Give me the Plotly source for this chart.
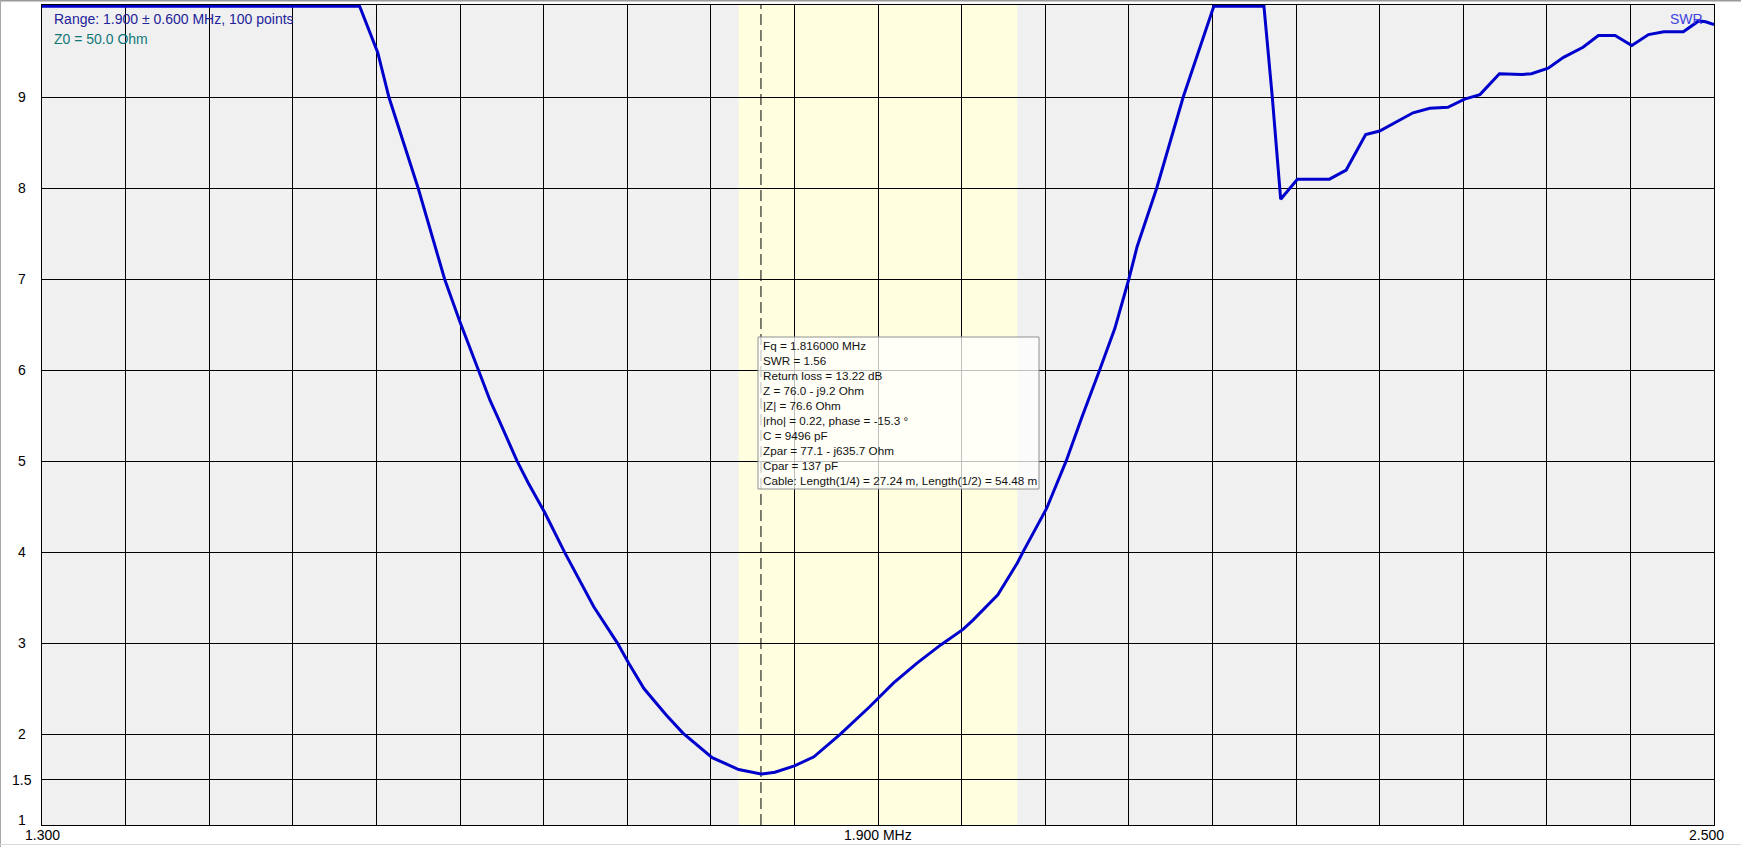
import plotly.graph_objects as go

# SWR sweep (values above 10 are clipped at the top)
freq_mhz = [
    1.300, 1.528, 1.541, 1.549, 1.570, 1.589, 1.600, 1.613, 1.6215, 1.628,
    1.641, 1.649, 1.661, 1.675, 1.696, 1.713, 1.721, 1.732, 1.748, 1.760,
    1.781, 1.800, 1.816, 1.826, 1.840, 1.854, 1.873, 1.894, 1.911, 1.928,
    1.945, 1.961, 1.968, 1.986, 2.000, 2.004, 2.021, 2.035, 2.046, 2.059,
    2.070, 2.080, 2.086, 2.100, 2.119, 2.141, 2.177, 2.183, 2.186, 2.189,
    2.201, 2.224, 2.236, 2.250, 2.260, 2.272, 2.284, 2.296, 2.309, 2.321,
    2.332, 2.346, 2.362, 2.369, 2.381, 2.392, 2.406, 2.417, 2.429, 2.441,
    2.453, 2.464, 2.478, 2.489, 2.494, 2.500,
]
swr = [
    10.0, 10.0, 9.49, 9.00, 8.00, 7.00, 6.53, 6.00, 5.67, 5.45,
    5.00, 4.76, 4.43, 4.00, 3.40, 3.00, 2.78, 2.50, 2.21, 2.01,
    1.74, 1.61, 1.56, 1.58, 1.65, 1.75, 2.00, 2.30, 2.56, 2.78,
    2.98, 3.15, 3.25, 3.53, 3.88, 4.00, 4.48, 5.00, 5.47, 6.00,
    6.46, 7.00, 7.36, 8.00, 9.00, 10.0, 10.0, 9.00, 8.46, 7.88,
    8.10, 8.10, 8.20, 8.59, 8.63, 8.73, 8.83, 8.88, 8.89, 8.98,
    9.03, 9.26, 9.25, 9.26, 9.32, 9.44, 9.55, 9.68, 9.68, 9.57,
    9.69, 9.72, 9.72, 9.84, 9.83, 9.80,
]

x_grid = [round(1.3 + 0.06 * i, 2) for i in range(21)]
y_ticks = [1, 1.5, 2, 3, 4, 5, 6, 7, 8, 9]
y_labels = ["1", "1.5", "2", "3", "4", "5", "6", "7", "8", "9"]
x_labels = {1.3: "1.300", 1.9: "1.900 MHz", 2.5: "2.500"}

band = (1.8, 2.0)
marker_fq = 1.816
info_lines = [
    "Fq = 1.816000 MHz",
    "SWR = 1.56",
    "Return loss = 13.22 dB",
    "Z = 76.0 - j9.2 Ohm",
    "|Z| = 76.6 Ohm",
    "|rho| = 0.22, phase = -15.3 °",
    "C = 9496 pF",
    "Zpar = 77.1 - j635.7 Ohm",
    "Cpar = 137 pF",
    "Cable: Length(1/4) = 27.24 m, Length(1/2) = 54.48 m",
]

W, H = 1741, 847
ML, MR, MT, MB = 42, 27, 5, 22
PW, PH = W - ML - MR, H - MT - MB
FONT = "Liberation Sans, Arial, sans-serif"


def px_x(px):
    return (px - ML) / PW


def px_y(py):
    return (H - MB - py) / PH


fig = go.Figure()
fig.add_trace(go.Scatter(
    x=freq_mhz, y=swr, mode="lines",
    line=dict(color="#0000cc", width=3),
    name="SWR", showlegend=False, hoverinfo="skip",
))

shapes = [
    # 160 m band highlight
    dict(type="rect", xref="x", yref="paper", x0=band[0], x1=band[1], y0=0, y1=1,
         fillcolor="#ffffe0", line=dict(width=0), layer="below"),
    # marker
    dict(type="line", xref="x", yref="paper", x0=marker_fq, x1=marker_fq, y0=0, y1=1,
         line=dict(color="black", width=1, dash="11px,5px"), layer="below"),
    # info box
    dict(type="rect", xref="paper", yref="paper",
         x0=px_x(758), x1=px_x(1039), y0=px_y(489), y1=px_y(337),
         fillcolor="rgba(255,255,255,0.75)", line=dict(color="#909090", width=1),
         layer="above"),
    # window frame
    dict(type="line", xref="paper", yref="paper", x0=px_x(0), x1=px_x(W), y0=px_y(0.5), y1=px_y(0.5),
         line=dict(color="#9a9a9a", width=2)),
    dict(type="line", xref="paper", yref="paper", x0=px_x(0.5), x1=px_x(0.5), y0=px_y(0), y1=px_y(H),
         line=dict(color="#a8a8a8", width=1)),
    dict(type="line", xref="paper", yref="paper", x0=px_x(0), x1=px_x(W), y0=px_y(844.5), y1=px_y(844.5),
         line=dict(color="#d8d8d8", width=1)),
]

annotations = []
for v, lab in zip(y_ticks, y_labels):
    annotations.append(dict(
        x=px_x(22), xref="paper", y=v, yref="y", text=lab, showarrow=False,
        xanchor="center", yanchor="middle", yshift=5 if v == 1 else 0,
        font=dict(family=FONT, size=14, color="black"),
    ))
for v, lab in x_labels.items():
    annotations.append(dict(
        x=v, xref="x", y=px_y(835), yref="paper", text=lab, showarrow=False,
        xanchor="center", yanchor="middle", xshift=-8 if v == 2.5 else 0,
        font=dict(family=FONT, size=14, color="black"),
    ))

annotations += [
    dict(x=px_x(52), xref="paper", y=px_y(19), yref="paper", showarrow=False,
         text="Range: 1.900 ± 0.600 MHz, 100 points", xanchor="left", yanchor="middle",
         font=dict(family=FONT, size=14, color="#22229a")),
    dict(x=px_x(52), xref="paper", y=px_y(39), yref="paper", showarrow=False,
         text="Z0 = 50.0 Ohm", xanchor="left", yanchor="middle",
         font=dict(family=FONT, size=14, color="#107878")),
    dict(x=px_x(1705), xref="paper", y=px_y(19), yref="paper", showarrow=False,
         text="SWR", xanchor="right", yanchor="middle",
         font=dict(family=FONT, size=14, color="#4040e0")),
]
for i, line in enumerate(info_lines):
    annotations.append(dict(
        x=px_x(761), xref="paper", y=px_y(345.7 + 15 * i), yref="paper",
        text=line, showarrow=False, xanchor="left", yanchor="middle",
        font=dict(family=FONT, size=11.7, color="#111111"),
    ))

fig.update_layout(
    width=W, height=H,
    margin=dict(l=ML, r=MR, t=MT, b=MB),
    paper_bgcolor="white",
    plot_bgcolor="#f0f0f0",
    shapes=shapes,
    annotations=annotations,
    xaxis=dict(
        range=[1.3, 2.5], tickvals=x_grid, showticklabels=False, ticks="",
        showgrid=True, gridcolor="black", gridwidth=1, zeroline=False,
        showline=True, linecolor="black", linewidth=1, mirror=True,
    ),
    yaxis=dict(
        range=[1, 10.015], tickvals=y_ticks, showticklabels=False, ticks="",
        showgrid=True, gridcolor="black", gridwidth=1, zeroline=False,
        showline=True, linecolor="black", linewidth=1, mirror=True,
    ),
)

# the page has a default 8px body margin; drop it so the figure fills the window
fig.write_html(
    "out.html",
    config={"displayModeBar": False},
    post_script="document.body.style.margin='0';document.body.style.overflow='hidden';",
)
